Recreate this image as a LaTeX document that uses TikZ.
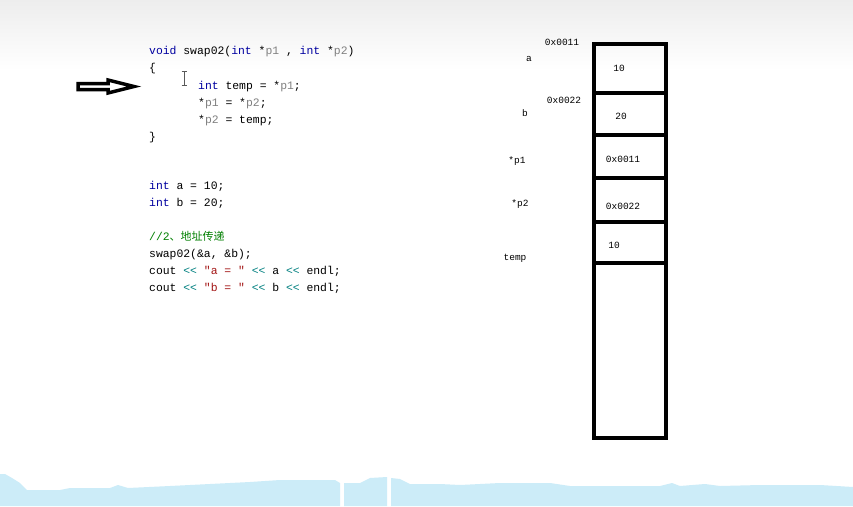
\documentclass[tikz,border=0pt]{standalone}
\usepackage{fontspec}
\setmonofont{Liberation Mono}
\newfontfamily\cjk{Noto Sans CJK SC}
\begin{document}
\begin{tikzpicture}[x=1pt,y=-1pt,
  code/.style={anchor=base west,inner sep=0,font=\ttfamily\fontsize{11.4}{12}\selectfont},
  lbl/.style={inner sep=0,font=\ttfamily\fontsize{9.5}{10}\selectfont},
  cell/.style={draw=black,line width=3.8pt}]
\definecolor{kw}{RGB}{0,0,160}\definecolor{gr}{RGB}{128,128,128}
\definecolor{cm}{RGB}{0,128,0}\definecolor{st}{RGB}{163,21,21}\definecolor{op}{RGB}{0,128,128}
\definecolor{sky}{RGB}{204,236,248}
\useasboundingbox (0,0) rectangle (853,506);
\fill[white] (0,0) rectangle (853,506);
\shade[top color=black!7,bottom color=white] (0,0) rectangle (853,70);
\fill[sky] (0,474) -- (5,474) -- (12,478) -- (20,483) -- (27,490) -- (60,490) -- (70,488) -- (110,488) -- (118,485) -- (128,488) -- (170,486) -- (250,482) -- (280,480) -- (335,480) -- (340,483) -- (340,506) -- (0,506) -- cycle;
\fill[sky] (344,483) -- (360,483) -- (370,478) -- (387,477) -- (387,506) -- (344,506) -- cycle;
\fill[sky] (391,478) -- (400,479) -- (410,484) -- (440,484) -- (460,485) -- (500,483) -- (550,483) -- (570,486) -- (660,486) -- (672,483) -- (680,486) -- (705,484) -- (720,486) -- (760,485) -- (820,485) -- (853,487) -- (853,506) -- (391,506) -- cycle;
% arrow
\draw[line width=3.5pt,line join=miter] (78,83.5) -- (108,83.5) -- (108,80) -- (134,86.5) -- (108,93) -- (108,89.5) -- (78,89.5) -- cycle;
% cursor
\draw[gray!70!black,line width=0.8pt] (184,71) -- (184,85) (181.5,71) -- (186.5,71) (181.5,85) -- (186.5,85);
% code
\node[code] (l1) at (149,54) {\textcolor{kw}{void} swap02(\textcolor{kw}{int} *\textcolor{gr}{p1} , \textcolor{kw}{int} *\textcolor{gr}{p2})};
\node[code] (l2) at (149,71) {\{};
\node[code] (l3) at (198,89) {\textcolor{kw}{int} temp = *\textcolor{gr}{p1};};
\node[code] (l4) at (198,106) {*\textcolor{gr}{p1} = *\textcolor{gr}{p2};};
\node[code] (l5) at (198,123) {*\textcolor{gr}{p2} = temp;};
\node[code] (l6) at (149,140) {\}};
\node[code] (l7) at (149,189) {\textcolor{kw}{int} a = 10;};
\node[code] (l8) at (149,206) {\textcolor{kw}{int} b = 20;};
\node[code] (l9) at (149,240) {\textcolor{cm}{//2{\cjk\fontsize{11}{12}\selectfont 、地址传递}}};
\node[code] (l10) at (149,257) {swap02(\&a, \&b);};
\node[code] (l11) at (149,274) {cout \textcolor{op}{<<} \textcolor{st}{"a = "} \textcolor{op}{<<} a \textcolor{op}{<<} endl;};
\node[code] (l12) at (149,291) {cout \textcolor{op}{<<} \textcolor{st}{"b = "} \textcolor{op}{<<} b \textcolor{op}{<<} endl;};
% memory
\draw[cell] (594,44) rectangle (666,438);
\foreach \y in {93,135,178,222,263} \draw[cell] (594,\y) -- (666,\y);
\node[lbl] (va) at (619,68) {10};
\node[lbl] (vb) at (621,116) {20};
\node[lbl] (vp1) at (623,159) {0x0011};
\node[lbl] (vp2) at (623,206) {0x0022};
\node[lbl] (vt) at (614,245) {10};
\node[lbl] (na) at (529,59) {a};
\node[lbl] (nb) at (525,113) {b};
\node[lbl] (np1) at (517,161) {*p1};
\node[lbl] (np2) at (520,204) {*p2};
\node[lbl] (nt) at (515,258) {temp};
\node[lbl] (ad1) at (562,42) {0x0011};
\node[lbl] (ad2) at (564,100) {0x0022};
\end{tikzpicture}
\end{document}
